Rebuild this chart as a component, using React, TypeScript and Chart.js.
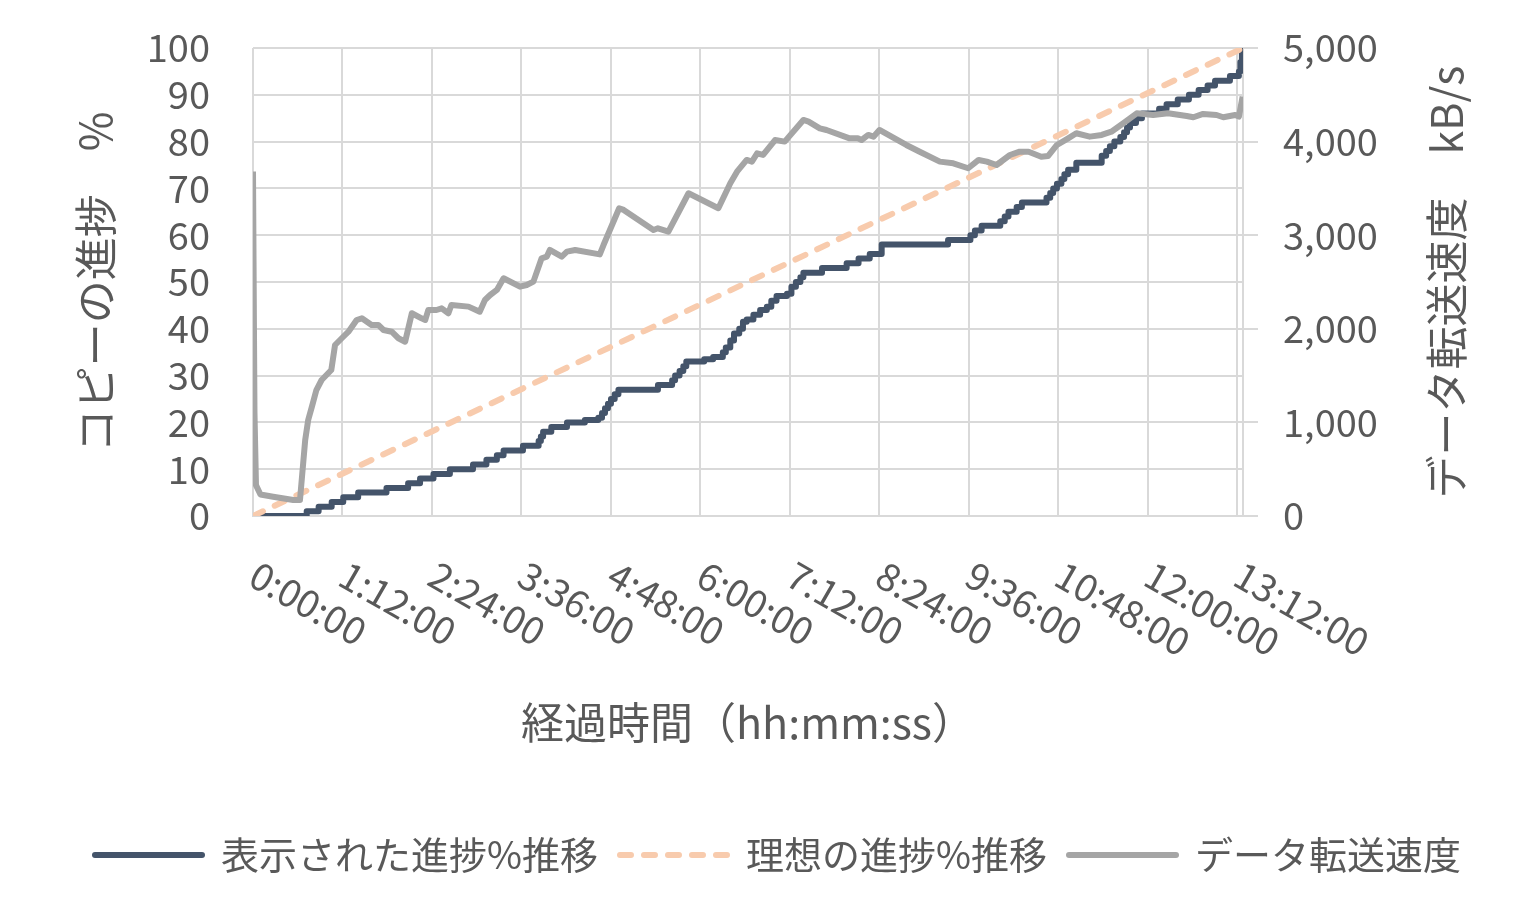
import React, { useEffect, useRef } from "react";
import { Chart, registerables } from "chart.js";

Chart.register(...registerables);

const FONT = "'Noto Sans CJK JP', 'Noto Sans', sans-serif";
const TEXT = "#595959";
const GRID = "#D9D9D9";

// time axis (hours)
const timeMax = 13.275;
const timeStep = 1.2;

// 表示された進捗%推移 (step points: time h, value %)
const progressTimes = [
  0, 0.72, 0.88, 1.055, 1.21, 1.41, 1.79, 2.08, 2.24, 2.42, 2.64, 2.95, 3.13, 3.27, 3.36, 3.62, 3.83, 3.86, 3.89,
  4.0, 4.21, 4.45, 4.63, 4.68, 4.72, 4.76, 4.8, 4.85, 4.9, 5.43, 5.62, 5.66, 5.72, 5.77, 5.81, 6.05, 6.17, 6.3,
  6.34, 6.4, 6.45, 6.52, 6.57, 6.62, 6.71, 6.8, 6.89, 6.95, 7.02, 7.16, 7.22, 7.28, 7.34, 7.38, 7.63, 7.96, 8.12,
  8.27, 8.43, 9.32, 9.62, 9.68, 9.77, 10.02, 10.08, 10.13, 10.24, 10.31, 10.64, 10.69, 10.73, 10.78, 10.84,
  10.88, 10.93, 11.04, 11.38, 11.44, 11.49, 11.55, 11.63, 11.68, 11.72, 11.76, 11.84, 11.92, 12.15, 12.25,
  12.4, 12.55, 12.68, 12.8, 12.9, 13.1, 13.22, 13.24, 13.26, 13.275,
];
const progressValues = [
  0, 1, 2, 3, 4, 5, 6, 7, 8, 9, 10, 11, 12, 13, 14, 15, 16, 17, 18,
  19, 20, 20.5, 21, 22, 23, 24, 25, 26, 27, 28, 29, 30, 31, 32, 33, 33.5, 34, 35,
  36, 37.5, 39, 40, 41.5, 42, 43, 44, 44.7, 46, 47, 47.5, 49, 50, 51, 52, 53, 54, 55,
  56, 58, 59, 60, 61, 62, 63, 64, 65, 66, 67, 68, 69, 70, 71, 72,
  73, 74, 75.5, 77, 78, 79, 80, 81, 82, 83, 84, 85, 86, 87, 88,
  89, 90, 91, 92, 93, 94, 95, 97, 99, 100,
];

// 理想の進捗%推移
const idealTimes = [0, 13.275];
const idealValues = [0, 100];

// データ転送速度 (kB/s)
const speedTimes = [
  0, 0.02, 0.04, 0.1, 0.27, 0.54, 0.63, 0.7, 0.74, 0.79, 0.85, 0.92, 1.05, 1.1, 1.19, 1.28, 1.39, 1.46, 1.59,
  1.68, 1.75, 1.86, 1.95, 2.04, 2.13, 2.26, 2.31, 2.35, 2.46, 2.53, 2.62, 2.66, 2.89, 3.04, 3.11, 3.18, 3.27,
  3.36, 3.58, 3.67, 3.76, 3.87, 3.94, 3.98, 4.14, 4.21, 4.32, 4.65, 4.7, 4.91, 4.97, 5.37, 5.43, 5.57, 5.84,
  6.24, 6.4, 6.49, 6.62, 6.69, 6.76, 6.84, 7.0, 7.13, 7.38, 7.45, 7.6, 7.69, 8.0, 8.11, 8.16, 8.25, 8.32, 8.4,
  8.76, 8.94, 9.21, 9.39, 9.59, 9.73, 9.84, 9.97, 10.15, 10.28, 10.4, 10.57, 10.66, 10.78, 10.93, 11.04, 11.22,
  11.38, 11.51, 11.67, 11.85, 12.07, 12.27, 12.52, 12.61, 12.74, 12.92, 13.01, 13.17, 13.22, 13.27,
];
const speedValues = [
  3680, 1100, 330, 230, 206, 171, 171, 812, 1026, 1168, 1346, 1453, 1560, 1827, 1899, 1969, 2094, 2112, 2041,
  2041, 1987, 1969, 1899, 1862, 2166, 2112, 2094, 2201, 2201, 2219, 2166, 2254, 2237, 2183, 2308, 2361, 2415,
  2540, 2450, 2468, 2504, 2753, 2772, 2842, 2771, 2825, 2842, 2795, 2895, 3288, 3270, 3056, 3074, 3038, 3448,
  3288, 3555, 3679, 3804, 3786, 3875, 3857, 4017, 4000, 4231, 4213, 4142, 4124, 4035, 4035, 4017, 4071, 4053, 4124,
  3964, 3892, 3786, 3768, 3715, 3804, 3786, 3750, 3857, 3892, 3892, 3839, 3846, 3964, 4035, 4089, 4053,
  4071, 4106, 4196, 4302, 4284, 4302, 4274, 4260, 4296, 4284, 4260, 4284, 4267, 4480,
];

const labels = ["表示された進捗%推移", "理想の進捗%推移", "データ転送速度"];
const leftTitle = "コピーの進捗　%";
const rightTitle = "データ転送速度　kB/s";
const xTitle = "経過時間（hh:mm:ss）";

const zip = (xs: number[], ys: number[]) => xs.map((x, i) => ({ x, y: ys[i] }));

const fmtTime = (h: number) => {
  const m = Math.round(h * 60);
  const hh = Math.floor(m / 60);
  const mm = m % 60;
  return `${hh}:${String(mm).padStart(2, "0")}:00`;
};

const customText = {
  id: "customText",
  afterDraw(chart: any) {
    const ctx = chart.ctx;
    const xs = chart.scales.x;
    const ca = chart.chartArea;
    ctx.save();
    ctx.fillStyle = TEXT;
    ctx.font = `38px ${FONT}`;
    ctx.textAlign = "left";
    ctx.textBaseline = "top";
    xs.ticks.forEach((t: any) => {
      const px = xs.getPixelForValue(t.value);
      ctx.save();
      ctx.translate(px + 10, ca.bottom + 39);
      ctx.rotate((30 * Math.PI) / 180);
      ctx.fillText(fmtTime(t.value), 0, 0);
      ctx.restore();
    });
    ctx.font = `43px ${FONT}`;
    ctx.textAlign = "center";
    ctx.textBaseline = "middle";
    ctx.translate(1439, (ca.top + ca.bottom) / 2);
    ctx.rotate(-Math.PI / 2);
    ctx.fillText(rightTitle, 0, 0);
    ctx.restore();
  },
};

const noVPad = (s: any) => {
  s.paddingTop = 0;
  s.paddingBottom = 0;
};

export default function App() {
  const ref = useRef<HTMLCanvasElement | null>(null);
  useEffect(() => {
    if (!ref.current) return;
    Chart.defaults.font.family = FONT;
    const chart = new Chart(ref.current, {
      type: "line",
      data: {
        datasets: [
          {
            label: labels[0],
            data: zip(progressTimes, progressValues),
            borderColor: "#44546A",
            backgroundColor: "#44546A",
            borderWidth: 6,
            stepped: true,
            pointRadius: 0,
            yAxisID: "y",
            order: 2,
            borderJoinStyle: "round",
          },
          {
            label: labels[1],
            data: zip(idealTimes, idealValues),
            borderColor: "#F8CBAD",
            backgroundColor: "#F8CBAD",
            borderWidth: 6,
            borderDash: [11, 13],
            borderCapStyle: "round",
            pointRadius: 0,
            yAxisID: "y",
            order: 1,
          },
          {
            label: labels[2],
            data: zip(speedTimes, speedValues),
            borderColor: "#A5A5A5",
            backgroundColor: "#A5A5A5",
            borderWidth: 6,
            pointRadius: 0,
            yAxisID: "y1",
            order: 0,
            borderJoinStyle: "round",
          },
        ],
      },
      options: {
        animation: false,
        responsive: true,
        maintainAspectRatio: false,
        layout: { padding: { top: 40, bottom: 30, left: 20, right: 0 } },
        plugins: {
          tooltip: { enabled: false },
          legend: {
            position: "bottom",
            labels: {
              usePointStyle: true,
              pointStyleWidth: 107,
              padding: 22,
              color: TEXT,
              font: { size: 38, family: FONT },
              generateLabels: (c: any) =>
                c.data.datasets.map((ds: any, i: number) => ({
                  text: ds.label,
                  fillStyle: ds.borderColor,
                  strokeStyle: ds.borderColor,
                  lineWidth: 6,
                  lineDash: ds.borderDash || [],
                  lineCap: "round",
                  pointStyle: "line",
                  hidden: false,
                  datasetIndex: i,
                  fontColor: TEXT,
                })),
            },
          },
        },
        scales: {
          x: {
            type: "linear",
            min: 0,
            max: timeMax,
            ticks: { stepSize: timeStep, includeBounds: false, display: false },
            grid: { color: GRID, lineWidth: 2, drawTicks: false },
            border: { display: true, color: GRID, width: 2 },
            title: {
              display: true,
              text: xTitle,
              color: TEXT,
              font: { size: 43, family: FONT },
              padding: { top: 0, bottom: 66 },
            },
            afterFit: (s: any) => {
              s.height = 298;
            },
          },
          y: {
            position: "left",
            min: 0,
            max: 100,
            ticks: {
              stepSize: 10,
              autoSkip: false,
              color: TEXT,
              font: { size: 38, family: FONT },
              padding: 43,
            },
            grid: { color: GRID, lineWidth: 2, drawTicks: false },
            border: { display: false },
            title: {
              display: true,
              text: leftTitle,
              color: TEXT,
              font: { size: 43, family: FONT },
              padding: { top: 42, bottom: 0 },
            },
            afterFit: (s: any) => {
              s.width = 225;
              noVPad(s);
            },
          },
          y1: {
            position: "right",
            min: 0,
            max: 5000,
            ticks: {
              stepSize: 1000,
              autoSkip: false,
              color: TEXT,
              font: { size: 38, family: FONT },
              padding: 25,
            },
            grid: { drawOnChartArea: false, drawTicks: true, tickLength: 15, color: GRID, lineWidth: 2 },
            border: { display: true, color: GRID, width: 2 },
            afterFit: (s: any) => {
              s.width = 285;
              noVPad(s);
            },
          },
        },
      },
      plugins: [customText],
    } as any);
    return () => chart.destroy();
  }, []);
  return (
    <div style={{ width: 1520, height: 906, position: "fixed", left: 8, top: 8 }}>
      <canvas ref={ref} />
    </div>
  );
}
